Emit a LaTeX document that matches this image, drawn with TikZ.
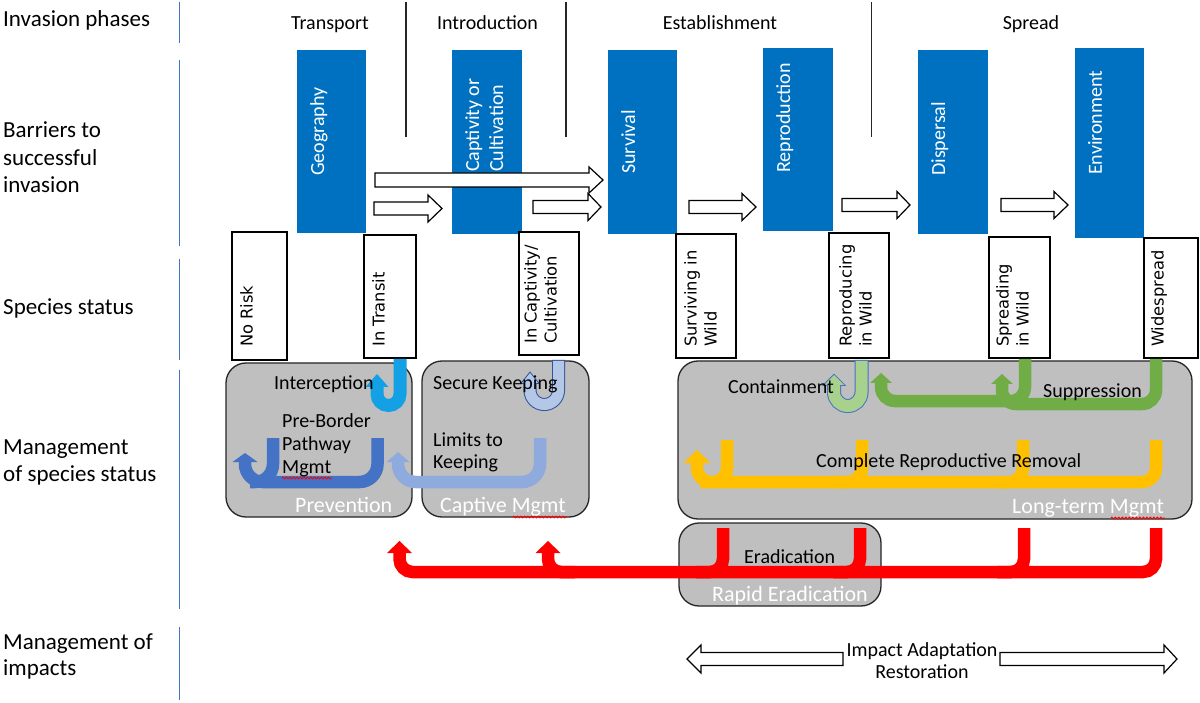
\documentclass[tikz,border=0pt]{standalone}
\usepackage{fontspec}
\setmainfont{Carlito}
\newfontfamily\statusfont{DejaVu Sans}
\usetikzlibrary{decorations.pathmorphing}
\definecolor{barblue}{HTML}{0070C0}
\definecolor{sepblue}{HTML}{4472C4}
\definecolor{mgray}{HTML}{BFBFBF}
\definecolor{intc}{RGB}{20,160,228}
\definecolor{prec}{HTML}{4472C4}
\definecolor{limc}{HTML}{8FAADC}
\definecolor{secf}{HTML}{B4C7E7}
\definecolor{seco}{HTML}{2F5597}
\definecolor{conf}{HTML}{A9D18E}
\definecolor{cono}{HTML}{4472C4}
\definecolor{supc}{HTML}{70AD47}
\definecolor{remc}{HTML}{FFC000}
\definecolor{erac}{HTML}{FF0000}
\tikzset{
  barrier/.style={fill=barblue},
  statusbox/.style={draw=black, fill=white, line width=1.2pt},
  mgmtbox/.style={draw=black!85, fill=mgray, line width=1.3pt, rounded corners=20pt},
  blockarr/.style={draw=black, fill=white, line width=1.2pt, line join=miter},
  sepline/.style={draw=sepblue, line width=1.7pt},
  phaseline/.style={draw=black!85, line width=1.3pt},
  lbl/.style={inner sep=0pt, anchor=base west, font=\fontsize{23}{27}\selectfont},
  phase/.style={inner sep=0pt, anchor=base, font=\fontsize{20}{24}\selectfont},
  bartext/.style={inner sep=0pt, rotate=90, anchor=north west, text=white, align=left,
    font=\fontsize{20}{24}\selectfont},
  stattext/.style={inner sep=0pt, rotate=90, anchor=north west, align=left,
    font=\statusfont\fontsize{16.3}{20}\selectfont},
  mtext/.style={inner sep=0pt, anchor=base west, font=\fontsize{20}{24}\selectfont},
  wtext/.style={inner sep=0pt, anchor=base west, text=white, font=\fontsize{22}{26}\selectfont},
  itext/.style={inner sep=0pt, anchor=base, font=\fontsize{20}{24}\selectfont},
  squig/.style={draw=red, line width=0.8pt, decorate, decoration={zigzag, segment length=3.5pt, amplitude=1pt}},
  flow/.style={line width=12.5pt, rounded corners=#1},
}
% right-pointing block arrow: x0, xbase, xtip, yc, shaft half, head half
\newcommand\rblock[6]{\draw[blockarr] (#1,#4-#5) -- (#2,#4-#5) -- (#2,#4-#6) -- (#3,#4) -- (#2,#4+#6) -- (#2,#4+#5) -- (#1,#4+#5) -- cycle;}
% up head: colour, x, ybase, ytip, half width
\newcommand\uphead[5]{\fill[#1] (#2-#5,#3) -- (#2+#5,#3) -- (#2,#4) -- cycle;}
\newcommand\upheado[5]{\filldraw[#1, line width=2pt, line join=miter] (#2-#5,#3) -- (#2+#5,#3) -- (#2,#4) -- cycle;}
\begin{document}
\begin{tikzpicture}[x=1pt,y=-1pt]
\useasboundingbox (0,0) rectangle (1200,703);
\fill[white] (0,0) rectangle (1200,703);

% separators
\draw[sepline] (179.5,2) -- (179.5,43);
\draw[sepline] (179.5,60) -- (179.5,246);
\draw[sepline] (179.5,259) -- (179.5,360);
\draw[sepline] (179.5,370) -- (179.5,609);
\draw[sepline] (179.5,627) -- (179.5,700);

% left labels
\node[lbl] (lipa) at (3,27) {Invasion phases};
\node[lbl] (lba1) at (3,138) {Barriers to};
\node[lbl] (lba2) at (3,166) {successful};
\node[lbl] (lba3) at (3,193) {invasion};
\node[lbl] (lss) at (3,315) {Species status};
\node[lbl] (lms1) at (3,454) {Management};
\node[lbl] (lms2) at (3,481) {of species status};
\node[lbl] (lmi1) at (3,649) {Management of};
\node[lbl] (lmi2) at (3,675) {impacts};

% phases
\node[phase] (ptr) at (330,30) {Transport};
\node[phase] (pin) at (487.5,30) {Introduction};
\node[phase] (pes) at (720,30) {Establishment};
\node[phase] (psp) at (1031,30) {Spread};
\draw[phaseline] (406,2) -- (406,137);
\draw[phaseline] (566,2) -- (566,137);
\draw[phaseline] (871.5,2) -- (871.5,137);

% barriers
\fill[barrier] (297,50) rectangle (366,233);
\fill[barrier] (452,50) rectangle (522,234);
\fill[barrier] (608,50) rectangle (677,234);
\fill[barrier] (763,48) rectangle (833,231);
\fill[barrier] (918,50) rectangle (988,234);
\fill[barrier] (1075,48) rectangle (1144,238);
\node[bartext] (tgeo) at (310,176) {Geography};
\node[bartext] (tcap) at (465,172) {Captivity or\\Cultivation};
\node[bartext] (tsur) at (621,174) {Survival};
\node[bartext] (trep) at (776,173) {Reproduction};
\node[bartext] (tdis) at (931,176) {Dispersal};
\node[bartext] (tenv) at (1088,175) {Environment};

% block arrows between barriers
\rblock{375}{589}{603}{180}{7}{13}
\rblock{374}{428}{442}{208.5}{6.5}{13.5}
\rblock{533}{588}{601}{207}{6.5}{13.5}
\rblock{689}{742}{756}{207}{6.5}{13.5}
\rblock{842}{897}{910}{205}{6.5}{13.5}
\rblock{1001}{1054}{1068}{205}{6.5}{13.5}

% species status boxes
\draw[statusbox] (232,232) rectangle (287,360);
\draw[statusbox] (364,235) rectangle (416,358);
\draw[statusbox] (519,232) rectangle (579,355);
\draw[statusbox] (676,234) rectangle (736,358);
\draw[statusbox] (829,233) rectangle (889,358);
\draw[statusbox] (989,237) rectangle (1050,358);
\draw[statusbox] (1144,238) rectangle (1198,358);
\node[stattext] (snr) at (240,347) {No Risk};
\node[stattext] (sit) at (372,347) {In Transit};
\node[stattext] (sic) at (524,344) {In Captivity/\\Cultivation};
\node[stattext] (ssw) at (684,347) {Surviving in\\Wild};
\node[stattext] (srw) at (839,347) {Reproducing\\in Wild};
\node[stattext] (spw) at (996,347) {Spreading\\in Wild};
\node[stattext] (swd) at (1151,347) {Widespread};

% management boxes
\draw[mgmtbox] (226,363) rectangle (412,517);
\draw[mgmtbox] (422,361) rectangle (589,517);
\draw[mgmtbox] (678,361) rectangle (1192,519);
\draw[mgmtbox] (679,523) rectangle (881,606);

% Interception
\draw[intc, flow=11.5pt, line width=13pt] (400,359) -- (400,405.5) -- (377,405.5) -- (377,386);
\uphead{intc}{377}{387}{374}{11.5}
% Pre-border pathway
\draw[prec, flow=18pt] (377.5,438) -- (377.5,482) -- (245,482) -- (245,461);
\draw[prec, flow=18pt] (273,438) -- (273,482) -- (250,482);
\uphead{prec}{245}{462}{453}{12.5}
% Limits to keeping
\draw[limc, flow=18pt] (540,438) -- (540,482) -- (398,482) -- (398,461);
\uphead{limc}{398}{462}{452}{11.5}
% Secure keeping (outlined)
\draw[seco, flow=14.25pt, line width=13pt] (558.5,360) -- (558.5,404.5) -- (530,404.5) -- (530,382);
\upheado{seco}{530}{383}{373}{8}
\draw[secf, flow=14.25pt, line width=11pt] (558.5,361) -- (558.5,404.5) -- (530,404.5) -- (530,382);
\uphead{secf}{530}{383}{373}{8}
% Containment (outlined)
\draw[cono, flow=13.75pt, line width=14pt] (861.5,360) -- (861.5,406) -- (834,406) -- (834,384);
\upheado{cono}{834}{385}{375}{10}
\draw[conf, flow=13.75pt, line width=12pt] (861.5,361) -- (861.5,406) -- (834,406) -- (834,384);
\uphead{conf}{834}{385}{375}{10}
% Suppression
\draw[supc, flow=14pt] (1156,359) -- (1156,404) -- (1002,404) -- (1002,383);
\uphead{supc}{1002}{384}{374}{11}
\draw[supc, flow=14pt] (1025,359) -- (1025,401) -- (881,401) -- (881,382);
\uphead{supc}{881}{383}{373}{11}
% Complete reproductive removal
\draw[remc, flow=14pt] (1156,440) -- (1156,482) -- (697,482) -- (697,462);
\draw[remc, flow=14pt] (727,440) -- (727,482) -- (700,482);
\draw[remc, flow=14pt] (862,440) -- (862,482) -- (835,482);
\draw[remc, flow=14pt] (1023,440) -- (1023,482) -- (996,482);
\uphead{remc}{697}{463}{450}{13.5}
% Eradication
\draw[erac, flow=13pt] (1156,528) -- (1156,572) -- (399.5,572) -- (399.5,552);
\draw[erac, flow=13pt] (575,572) -- (548,572) -- (548,552);
\draw[erac, flow=13pt] (723,528) -- (723,572) -- (696,572);
\draw[erac, flow=13pt] (860,528) -- (860,572) -- (833,572);
\draw[erac, flow=13pt] (1024,528) -- (1024,572) -- (997,572);
\uphead{erac}{399.5}{553}{541}{12.5}
\uphead{erac}{548}{553}{541}{12.5}

% management texts
\node[mtext] (mint) at (274,390) {Interception};
\node[mtext] (mpb1) at (282,427) {Pre-Border};
\node[mtext] (mpb2) at (282,450) {Pathway};
\node[mtext] (mpb3) at (282,473) {Mgmt};
\node[mtext] (msec) at (433,389) {Secure Keeping};
\node[mtext] (mlim1) at (433,446) {Limits to};
\node[mtext] (mlim2) at (433,468) {Keeping};
\node[mtext] (mcon) at (728,393) {Containment};
\node[mtext] (msup) at (1043,397) {Suppression};
\node[mtext] (mcrr) at (816,467) {Complete Reproductive Removal};
\node[mtext] (mera) at (744,563) {Eradication};
\node[wtext] (wpre) at (295,512) {Prevention};
\node[wtext] (wcap) at (440,512) {Captive Mgmt};
\node[wtext] (wlon) at (1012,513) {Long-term Mgmt};
\node[wtext] (wrap) at (712,601) {Rapid Eradication};
\draw[squig] (282,478) -- (332,478);
\draw[squig] (513,517) -- (567,517);
\draw[squig] (1111,518) -- (1165,518);

% impacts
\draw[blockarr] (843,652.5) -- (701,652.5) -- (701,645) -- (687,659) -- (701,673) -- (701,665.5) -- (843,665.5) -- cycle;
\rblock{1000}{1164}{1177}{659}{6.5}{14}
\node[itext] (ia1) at (922,656) {Impact Adaptation};
\node[itext] (ia2) at (922,678) {Restoration};
\end{tikzpicture}
\end{document}
